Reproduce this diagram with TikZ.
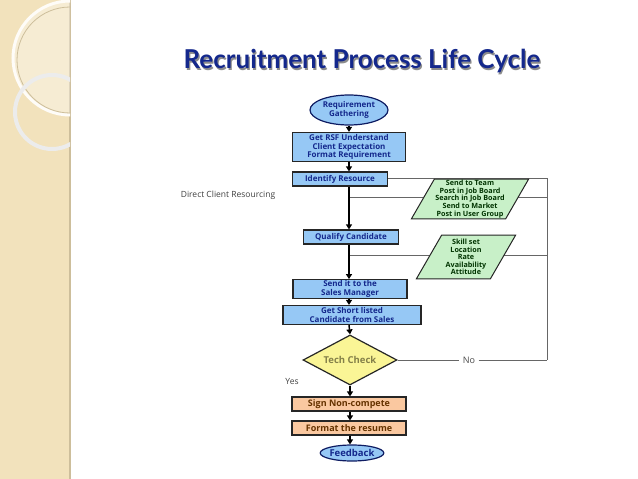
\documentclass[tikz,border=0pt]{standalone}
\usepackage{fontspec}
\setmainfont{Open Sans}
\newfontfamily\titlefont{Lato}
\usetikzlibrary{shapes.geometric,arrows.meta}
\definecolor{boxblue}{RGB}{150,200,245}
\definecolor{txtblue}{RGB}{20,40,140}
\definecolor{pgreen}{RGB}{200,240,200}
\definecolor{dyellow}{RGB}{250,245,150}
\definecolor{orangeb}{RGB}{250,200,160}
\definecolor{beige}{RGB}{242,226,188}
\definecolor{beigedk}{RGB}{205,190,155}
\tikzset{
 box/.style={draw=black!85,line width=1.2pt,fill=boxblue,text=txtblue,font=\bfseries\fontsize{8}{8.6}\selectfont,align=center,inner sep=1pt},
 obox/.style={box,fill=orangeb,text=black!60!orange,font=\bfseries\fontsize{9}{9}\selectfont},
 ell/.style={ellipse,draw=txtblue!70!black,line width=1.2pt,fill=boxblue,text=txtblue,font=\bfseries\fontsize{8}{8.6}\selectfont,align=center,inner sep=0pt},
 para/.style={trapezium,trapezium left angle=60,trapezium right angle=120,draw=black!85,line width=1pt,fill=pgreen,font=\bfseries\fontsize{7.2}{7.6}\selectfont,align=center,inner sep=1pt,text=black!80!green},
 ar/.style={-{Triangle[length=5pt,width=6pt]},line width=1.5pt},
 ln/.style={draw=black!60,line width=0.8pt},
}
\begin{document}
\begin{tikzpicture}[x=1pt,y=-1pt]
\useasboundingbox (0,0) rectangle (638,479);
\fill[white] (0,0) rectangle (638,479);
\fill[beige] (0,0) rectangle (70,479);
\draw[beigedk,line width=1.5pt] (70,0) -- (70,479);
\begin{scope}
\clip (0,0) rectangle (70,479);
\fill[white,opacity=0.35] (70,58) circle (58);
\draw[white!90!beige,line width=3pt] (70,58) circle (57);
\draw[beigedk,line width=0.8pt] (70,60) circle (53);
\draw[white!85!gray,line width=4pt] (52,112) circle (37);
\end{scope}
\node[font=\titlefont\bfseries\fontsize{26}{27}\selectfont,text=txtblue] (title) at (362,62) {\rlap{\raisebox{-1.2pt}{\hspace{1.2pt}\color{black!45}Recruitment Process Life Cycle}}Recruitment Process Life Cycle};

\node[ell,minimum width=78,minimum height=30] (req) at (349,110) {Requirement\\Gathering};
\node[box,minimum width=113,minimum height=29] (rsf) at (349,147) {Get RSF Understand\\Client Expectation\\Format Requirement};
\node[box,minimum width=95,minimum height=14] (ident) at (340,179) {Identify Resource};
\node[box,minimum width=95,minimum height=14] (qual) at (351,237) {Qualify Candidate};
\node[box,minimum width=114,minimum height=17] (send) at (350,289) {Send it to the\\Sales Manager};
\node[box,minimum width=138,minimum height=19] (short) at (352,315) {Get Short listed\\Candidate from Sales};
\node[diamond,draw=black!85,line width=1.2pt,fill=dyellow,aspect=1.9,minimum width=94,minimum height=50,inner sep=0pt,font=\bfseries\fontsize{9.5}{10}\selectfont,text=black!55!yellow] (tech) at (350,360) {Tech Check};
\node[obox,minimum width=114,minimum height=14] (sign) at (349,404) {Sign Non-compete};
\node[obox,minimum width=114,minimum height=14] (fmt) at (349,428) {Format the resume};
\node[ell,minimum width=58,minimum height=16,font=\bfseries\fontsize{9.5}{10}\selectfont] (fb) at (352,453) {Feedback};

\coordinate (r1) at (547,178);
\coordinate (r2) at (547,360);
\coordinate (s1) at (349,197);
\coordinate (e1) at (547,197);
\coordinate (s2) at (349,255);
\coordinate (e2) at (547,255);
\draw[ln] (ident.east |- r1) -- (r1) -- (r2);
\draw[ln] (s1) -- (e1);
\draw[ln] (s2) -- (e2);
\node[font=\fontsize{9}{9}\selectfont,text=black!70] (no) at (469,360) {No};
\draw[ln] (tech.east) -- (no.west);
\draw[ln] (no.east) -- (r2);

\node[para,minimum width=105,minimum height=38] (p1) at (470,199) {Send to Team\\Post in Job Board\\Search in Job Board\\Send to Market\\Post in User Group};
\node[para,minimum width=100,minimum height=40] (p2) at (466,257) {Skill set\\Location\\Rate\\Availability\\Attitude};

\node[font=\fontsize{8.5}{9}\selectfont,text=black!75] (dcr) at (228,195) {Direct Client Resourcing};
\node[font=\fontsize{8.5}{9}\selectfont,text=black!75] (yes) at (292,382) {Yes};

\draw[ar] (req) -- (rsf);
\draw[ar] (rsf) -- (rsf.south |- ident.north);
\draw[ar] (rsf.south |- ident.south) -- (rsf.south |- qual.north);
\draw[ar] (rsf.south |- qual.south) -- (rsf.south |- send.north);
\draw[ar] (rsf.south |- send.south) -- (rsf.south |- short.north);
\draw[ar] (rsf.south |- short.south) -- (tech.north);
\draw[ar] (tech.south) -- (tech.south |- sign.north);
\draw[ar] (tech.south |- sign.south) -- (tech.south |- fmt.north);
\draw[ar] (tech.south |- fmt.south) -- (tech.south |- fb.north);
\end{tikzpicture}
\end{document}
